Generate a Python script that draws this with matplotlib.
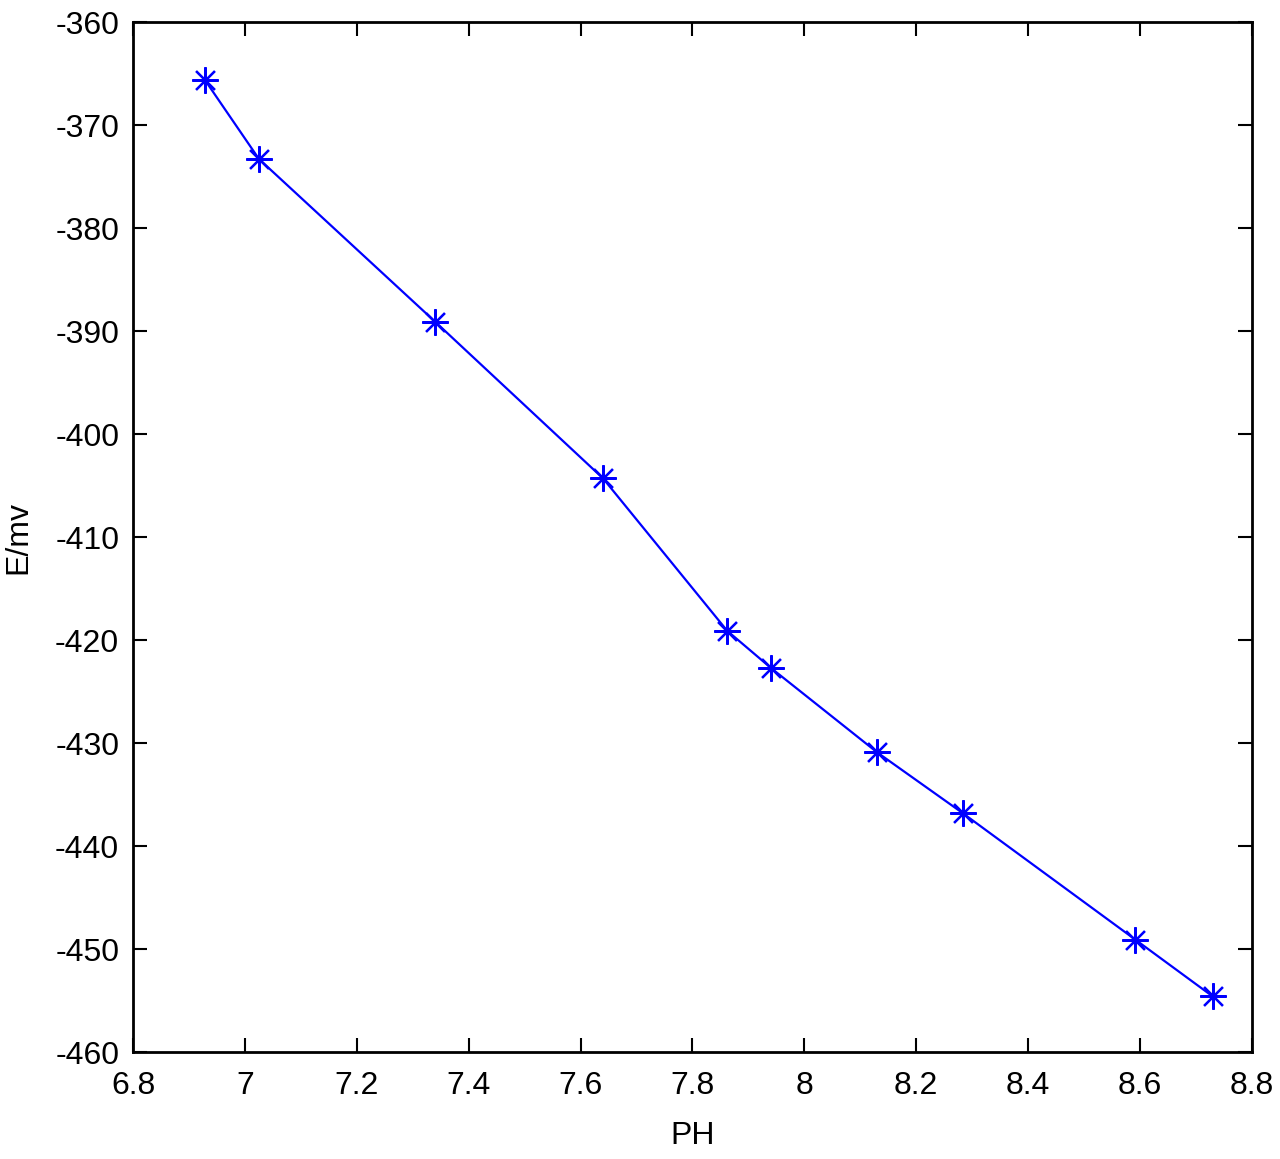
import matplotlib
matplotlib.use("Agg")
import matplotlib.pyplot as plt

ph = [6.928, 7.025, 7.34, 7.64, 7.862, 7.94, 8.13, 8.283, 8.592, 8.73]
e_mv = [-365.6, -373.3, -389.1, -404.3, -419.1, -422.7, -430.9, -436.8, -449.1, -454.6]
xticks = [6.8, 7.0, 7.2, 7.4, 7.6, 7.8, 8.0, 8.2, 8.4, 8.6, 8.8]
xticklabels = ["6.8", "7", "7.2", "7.4", "7.6", "7.8", "8", "8.2", "8.4", "8.6", "8.8"]
yticks = [-460, -450, -440, -430, -420, -410, -400, -390, -380, -370, -360]

plt.rcParams['font.family'] = ['Liberation Sans', 'DejaVu Sans']
plt.rcParams['axes.unicode_minus'] = False
fig = plt.figure(figsize=(12.8, 11.59), dpi=100)
ax = fig.add_axes([0.104, 0.0923, 0.874, 0.8887])
ax.plot(ph, e_mv, color='#0000ff', lw=1.6, marker=(8, 2, 0), ms=19, mew=1.6)
ax.set_xlim(6.8, 8.8)
ax.set_ylim(-460, -360)
ax.set_xticks(xticks)
ax.set_xticklabels(xticklabels)
ax.set_yticks(yticks)
ax.tick_params(direction='in', length=10, width=1.5, top=True, right=True,
               labelsize=23, pad=10)
ax.tick_params(axis='x', pad=14)
for s in ax.spines.values():
    s.set_linewidth(2)
ax.set_xlabel('PH', fontsize=23, labelpad=14)
ax.set_ylabel('E/mv', fontsize=23, labelpad=16)
fig.savefig('out.png', dpi=100)
